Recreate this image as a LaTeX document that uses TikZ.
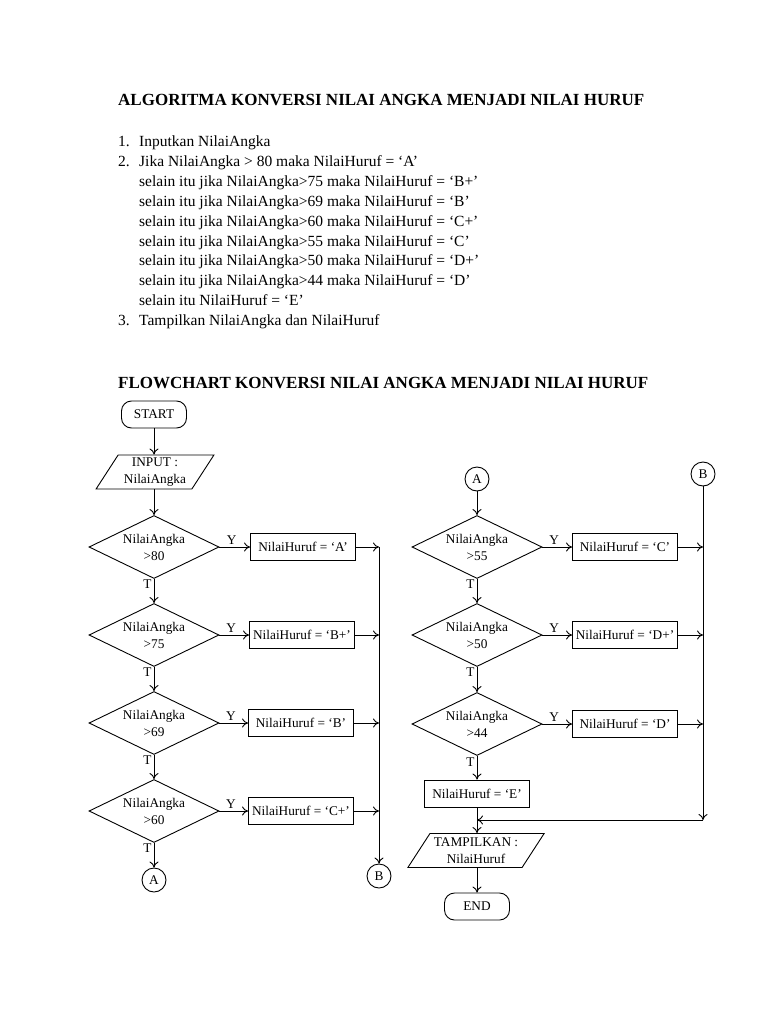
\documentclass[tikz,border=0pt]{standalone}
\usepackage{fontspec}
\setmainfont{Liberation Serif}
\usetikzlibrary{shapes.geometric,arrows.meta}
\begin{document}
\begin{tikzpicture}[x=1pt,y=-1pt,
 every node/.style={font=\fontsize{13.3}{17}\selectfont},
 conn/.style={line width=0.9pt,-{To[length=6pt,width=9pt]}},
 plain/.style={line width=0.9pt},
 term/.style={draw,line width=0.9pt,rounded corners=10pt,minimum width=65pt,minimum height=27pt,inner sep=0pt},
 io/.style={draw,line width=0.9pt,trapezium,trapezium left angle=57,trapezium right angle=123,minimum width=98pt,minimum height=34pt,inner sep=0pt,align=center},
 dec/.style={draw,diamond,aspect=2,line width=0.9pt,minimum width=130pt,minimum height=63pt,inner sep=0pt,align=center},
 proc/.style={draw,line width=0.9pt,minimum width=105pt,minimum height=27pt,inner sep=0pt},
 con/.style={draw,circle,line width=0.9pt,minimum size=24pt,inner sep=0pt},
 lbl/.style={inner sep=2pt},
 txt/.style={anchor=base west,inner sep=0pt,font=\fontsize{15.5}{18}\selectfont},
 ttl/.style={anchor=base west,inner sep=0pt,font=\fontsize{17}{19}\selectfont\bfseries}
]
\useasboundingbox[fill=white] (0,0) rectangle (768,1024);

% ---- algorithm text ----
\node[ttl] (title1) at (118,106) {ALGORITMA KONVERSI NILAI ANGKA MENJADI NILAI HURUF};
\node[txt] (n1) at (118,147) {1.};
\node[txt] (l1) at (139,147) {Inputkan NilaiAngka};
\node[txt] (n2) at (118,166.8) {2.};
\node[txt] (l2) at (139,166.8) {Jika NilaiAngka > 80 maka NilaiHuruf = ‘A’};
\node[txt] (l3) at (139,186.6) {selain itu jika NilaiAngka>75 maka NilaiHuruf = ‘B+’};
\node[txt] (l4) at (139,206.4) {selain itu jika NilaiAngka>69 maka NilaiHuruf = ‘B’};
\node[txt] (l5) at (139,226.2) {selain itu jika NilaiAngka>60 maka NilaiHuruf = ‘C+’};
\node[txt] (l6) at (139,246.0) {selain itu jika NilaiAngka>55 maka NilaiHuruf = ‘C’};
\node[txt] (l7) at (139,265.8) {selain itu jika NilaiAngka>50 maka NilaiHuruf = ‘D+’};
\node[txt] (l8) at (139,285.6) {selain itu jika NilaiAngka>44 maka NilaiHuruf = ‘D’};
\node[txt] (l9) at (139,305.4) {selain itu NilaiHuruf = ‘E’};
\node[txt] (n3) at (118,325.2) {3.};
\node[txt] (l10) at (139,325.2) {Tampilkan NilaiAngka dan NilaiHuruf};

\node[ttl] (title2) at (118,388) {FLOWCHART KONVERSI NILAI ANGKA MENJADI NILAI HURUF};

% ---- left column ----
\node[term] (start) at (154,414.5) {START};
\node[io] (in) at (155,472) {INPUT :\\NilaiAngka};
\node[dec] (d1) at (154,547) {NilaiAngka\\>80};
\node[proc] (b1) at (303,547) {NilaiHuruf = ‘A’};
\node[dec] (d2) at (154,635) {NilaiAngka\\>75};
\node[proc] (b2) at (302,635) {NilaiHuruf = ‘B+’};
\node[dec] (d3) at (154,723) {NilaiAngka\\>69};
\node[proc] (b3) at (301,723) {NilaiHuruf = ‘B’};
\node[dec] (d4) at (154,811) {NilaiAngka\\>60};
\node[proc] (b4) at (301,811) {NilaiHuruf = ‘C+’};
\node[con] (cA) at (154,880) {A};
\node[con] (cB) at (379,876) {B};

\draw[conn] (start) -- (start |- in.north);
\draw[conn] (in.south -| start) -- (d1);
\draw[conn] (d1) -- node[lbl,above,pos=0.4] (y1) {Y} (b1);
\draw[conn] (d1) -- node[lbl,left,pos=0.2] (t1) {T} (d2);
\draw[conn] (d2) -- node[lbl,above,pos=0.4] (y2) {Y} (b2);
\draw[conn] (d2) -- node[lbl,left,pos=0.2] (t2) {T} (d3);
\draw[conn] (d3) -- node[lbl,above,pos=0.4] (y3) {Y} (b3);
\draw[conn] (d3) -- node[lbl,left,pos=0.2] (t3) {T} (d4);
\draw[conn] (d4) -- node[lbl,above,pos=0.4] (y4) {Y} (b4);
\draw[conn] (d4) -- node[lbl,left,pos=0.2] (t4) {T} (cA);

\coordinate (busL) at (b1.east -| cB);
\draw[conn] (b1.east) -- (busL);
\draw[conn] (b2.east) -- (b2.east -| cB);
\draw[conn] (b3.east) -- (b3.east -| cB);
\draw[conn] (b4.east) -- (b4.east -| cB);
\draw[conn] (busL) -- (cB);

% ---- right column ----
\node[con] (cA2) at (477,479) {A};
\node[con] (cB2) at (703,474) {B};
\node[dec] (d5) at (477,547) {NilaiAngka\\>55};
\node[proc] (b5) at (625,547) {NilaiHuruf = ‘C’};
\node[dec] (d6) at (477,635) {NilaiAngka\\>50};
\node[proc] (b6) at (625,635) {NilaiHuruf = ‘D+’};
\node[dec] (d7) at (477,724) {NilaiAngka\\>44};
\node[proc] (b7) at (625,724) {NilaiHuruf = ‘D’};
\node[proc] (e) at (477,793.5) {NilaiHuruf = ‘E’};
\node[io,inner xsep=-7pt] (out) at (476,850.5) {TAMPILKAN :\\NilaiHuruf};
\node[term] (end) at (477,906.5) {END};

\draw[conn] (cA2) -- (d5);
\draw[conn] (d5) -- node[lbl,above,pos=0.4] (y5) {Y} (b5);
\draw[conn] (d5) -- node[lbl,left,pos=0.2] (t5) {T} (d6);
\draw[conn] (d6) -- node[lbl,above,pos=0.4] (y6) {Y} (b6);
\draw[conn] (d6) -- node[lbl,left,pos=0.2] (t6) {T} (d7);
\draw[conn] (d7) -- node[lbl,above,pos=0.4] (y7) {Y} (b7);
\draw[conn] (d7) -- node[lbl,left,pos=0.25] (t7) {T} (e);
\draw[conn] (e) -- (e |- out.north);
\draw[conn] (out.south -| end) -- (end);

\coordinate (corner) at (703,820);
\coordinate (join) at (e.south |- corner);
\draw[conn] (cB2) -- (corner);
\draw[conn] (corner) -- (join);
\draw[conn] (b5.east) -- (b5.east -| cB2);
\draw[conn] (b6.east) -- (b6.east -| cB2);
\draw[conn] (b7.east) -- (b7.east -| cB2);
\end{tikzpicture}
\end{document}
